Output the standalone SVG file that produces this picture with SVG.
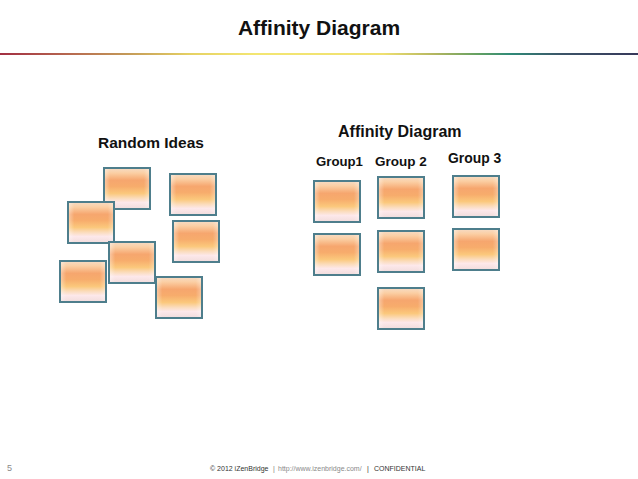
<svg xmlns="http://www.w3.org/2000/svg" width="638" height="479" viewBox="0 0 638 479">
  <defs>
    <linearGradient id="rule" gradientUnits="userSpaceOnUse" x1="0" y1="0" x2="638" y2="0">
      <stop offset="0" stop-color="#a22e42"/>
      <stop offset="0.1" stop-color="#b5644f"/>
      <stop offset="0.2" stop-color="#c49a58"/>
      <stop offset="0.3" stop-color="#e6d264"/>
      <stop offset="0.4" stop-color="#f3e672"/>
      <stop offset="0.6" stop-color="#efe070"/>
      <stop offset="0.68" stop-color="#b4b660"/>
      <stop offset="0.75" stop-color="#62a062"/>
      <stop offset="0.8" stop-color="#2f8a78"/>
      <stop offset="0.88" stop-color="#3c5468"/>
      <stop offset="1" stop-color="#37385a"/>
    </linearGradient>
    <linearGradient id="note" x1="0" y1="0" x2="0" y2="1">
      <stop offset="0" stop-color="#f6dcc6"/>
      <stop offset="0.12" stop-color="#fbcfa4"/>
      <stop offset="0.3" stop-color="#f6a66e"/>
      <stop offset="0.45" stop-color="#f7ac6c"/>
      <stop offset="0.62" stop-color="#fbc87c"/>
      <stop offset="0.74" stop-color="#fbdcbc"/>
      <stop offset="0.84" stop-color="#fde8ea"/>
      <stop offset="1" stop-color="#f1dcdc"/>
    </linearGradient>
    <linearGradient id="edge" x1="0" y1="0" x2="1" y2="0">
      <stop offset="0" stop-color="#ffffff" stop-opacity="0.35"/>
      <stop offset="0.12" stop-color="#ffffff" stop-opacity="0"/>
      <stop offset="0.88" stop-color="#ffffff" stop-opacity="0"/>
      <stop offset="1" stop-color="#ffffff" stop-opacity="0.3"/>
    </linearGradient>
    <symbol id="sticky" overflow="visible">
      <rect x="1" y="1" width="46" height="41" fill="url(#note)" stroke="#4e7e8c" stroke-width="2"/>
      <rect x="2" y="2" width="44" height="39" fill="url(#edge)"/>
    </symbol>
  </defs>
  <style>
    .title { font-family: "Liberation Sans", Arial, sans-serif; font-weight: bold; fill: #111; }
    .foot { font-family: "Liberation Sans", Arial, sans-serif; font-size: 7px; }
  </style>
  <rect width="638" height="479" fill="#ffffff"/>

  <text class="title" x="319" y="35" font-size="21" text-anchor="middle">Affinity Diagram</text>
  <rect x="0" y="53" width="638" height="2" fill="url(#rule)"/>

  <text class="title" x="98" y="148" font-size="15.5">Random Ideas</text>
  <text class="title" x="338" y="137" font-size="16">Affinity Diagram</text>
  <text class="title" x="316" y="166" font-size="13.2">Group1</text>
  <text class="title" x="375" y="166" font-size="13.5">Group 2</text>
  <text class="title" x="448" y="163" font-size="13.9">Group 3</text>

  <g id="connectors"></g>

  <g id="idea-a"><use href="#sticky" x="103" y="167"/></g>
  <g id="idea-b"><use href="#sticky" x="169" y="173"/></g>
  <g id="idea-c"><use href="#sticky" x="67" y="201"/></g>
  <g id="idea-d"><use href="#sticky" x="172" y="220"/></g>
  <g id="idea-e"><use href="#sticky" x="108" y="241"/></g>
  <g id="idea-f"><use href="#sticky" x="59" y="260"/></g>
  <g id="idea-g"><use href="#sticky" x="155" y="276"/></g>

  <g id="group1-a"><use href="#sticky" x="313" y="180"/></g>
  <g id="group1-b"><use href="#sticky" x="313" y="233"/></g>
  <g id="group2-a"><use href="#sticky" x="377" y="176"/></g>
  <g id="group2-b"><use href="#sticky" x="377" y="230"/></g>
  <g id="group2-c"><use href="#sticky" x="377" y="287"/></g>
  <g id="group3-a"><use href="#sticky" x="452" y="175"/></g>
  <g id="group3-b"><use href="#sticky" x="452" y="228"/></g>

  <text class="foot" x="7" y="471" fill="#8a8a8a" style="font-size:9px">5</text>
  <text class="foot" x="210" y="471" fill="#333333">© 2012 iZenBridge</text>
  <text class="foot" x="273" y="471" fill="#777777">|</text>
  <text class="foot" x="278" y="471" fill="#8a8a8a">http://www.izenbridge.com/</text>
  <text class="foot" x="367" y="471" fill="#333333">|</text>
  <text class="foot" x="374" y="471" fill="#333333">CONFIDENTIAL</text>
</svg>
